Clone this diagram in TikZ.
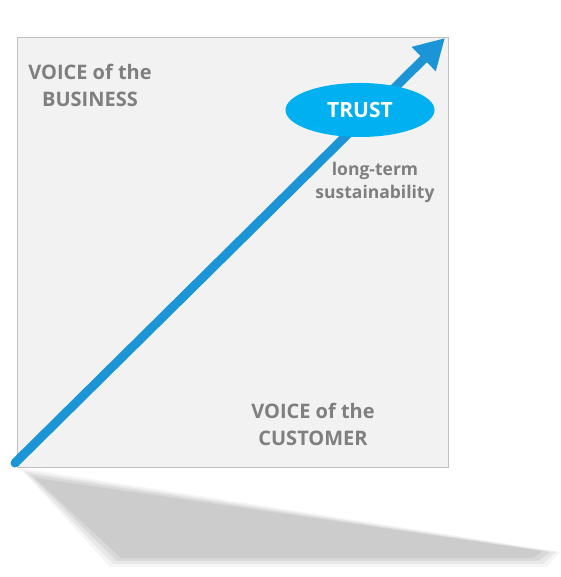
\documentclass[tikz,border=0pt]{standalone}
\usepackage{fontspec}
\setmainfont{Open Sans}
\usepackage{tikz}
\usetikzlibrary{shapes.geometric, arrows.meta, positioning}

\definecolor{panelgray}{HTML}{F2F2F2}
\definecolor{bordergray}{HTML}{C0C0C0}
\definecolor{textgray}{HTML}{7F7F7F}
\definecolor{arrowblue}{HTML}{1B95D6}
\definecolor{trustblue}{HTML}{00B0F0}
\definecolor{shadowgray}{HTML}{CCCCCC}

\begin{document}
\begin{tikzpicture}[
    x=1pt, y=1pt,
    label/.style={font=\fontsize{20}{27}\selectfont\bfseries, text=textgray, align=center, inner sep=0pt},
    smalllabel/.style={label, font=\fontsize{17.5}{23}\selectfont\bfseries},
    trust/.style={ellipse, fill=trustblue, minimum width=149pt, minimum height=54pt, inner sep=0pt, text=white, font=\fontsize{21}{22}\selectfont\bfseries},
    growth/.style={-{Triangle[length=30pt, width=32pt]}, line width=9pt, arrowblue, line cap=round}
]
\useasboundingbox (0,0) rectangle (560,577);

% Shadow
\fill[shadowgray!20] (20,109) -- (560,25) -- (547,10) -- (110,10) -- cycle;
\fill[shadowgray!45] (24,106) -- (556,25) -- (543,13) -- (113,13) -- cycle;
\fill[shadowgray!75] (29,103) -- (550,25) -- (538,16) -- (117,16) -- cycle;
\fill[shadowgray] (35,99) -- (543,26) -- (533,19) -- (121,19) -- cycle;

% Panel
\draw[bordergray, fill=panelgray] (17,110) rectangle (448,540);

% Labels
\node[label] (business) at (90,492) {VOICE of the\\BUSINESS};
\node[label] (customer) at (313,153) {VOICE of the\\CUSTOMER};
\node[smalllabel] (sustain) at (375,395) {long-term\\sustainability};

% Arrow
\coordinate (start) at (15,114);
\coordinate (tip) at (445,539);
\draw[growth] (start) -- (tip);

\node[trust] (trustnode) at (360,467) {TRUST};

\end{tikzpicture}
\end{document}
